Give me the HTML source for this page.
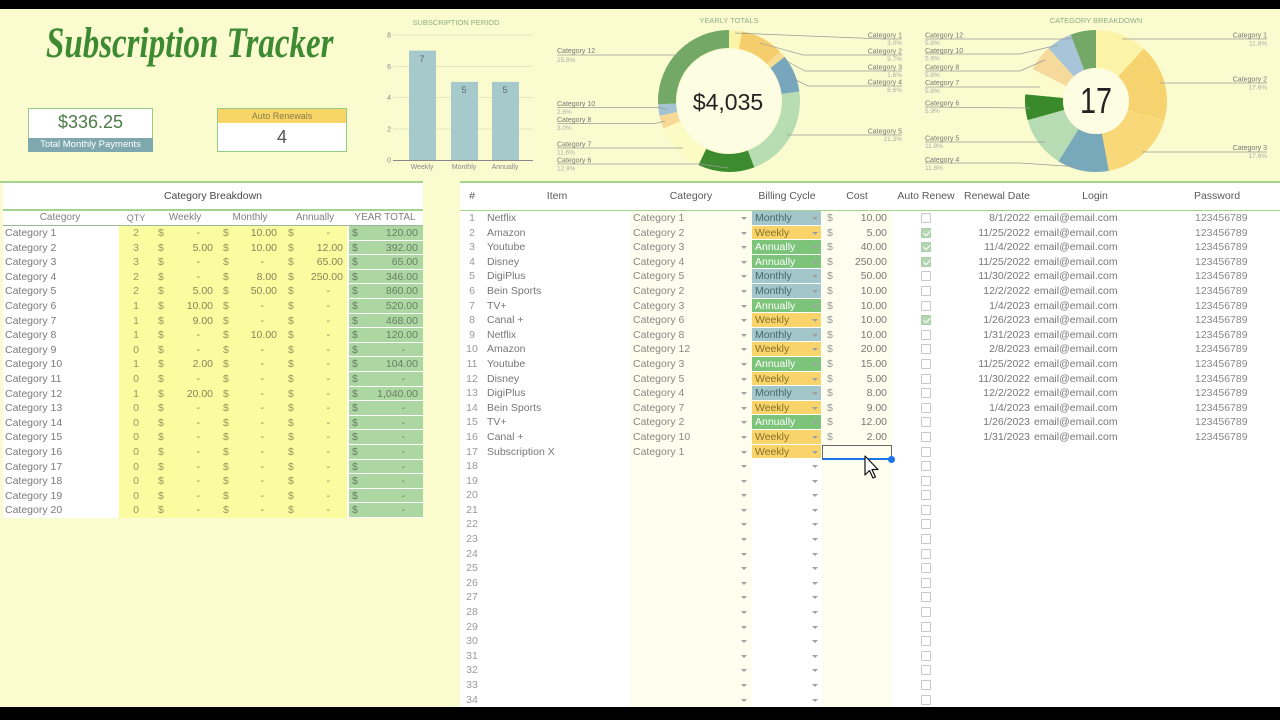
<!DOCTYPE html>
<html><head><meta charset="utf-8">
<style>
*{margin:0;padding:0;box-sizing:border-box}
body{width:1280px;height:720px;overflow:hidden;background:#fafccf;font-family:"Liberation Sans",sans-serif;position:relative}
.a{position:absolute}
.r{position:relative;height:14.6px}
.r span{position:absolute;top:0;line-height:14.6px;font-size:10.5px;white-space:nowrap}
/* left table */
.lt .n{left:2px;color:#7a7a7a}
.lt .q{left:123px;width:20px;text-align:center;color:#98985c}
.lt .s1{left:155px;color:#98985c}.lt .s2{left:220px;color:#98985c}.lt .s3{left:285px;color:#98985c}
.lt .v1{left:150px;width:60px;text-align:right;color:#85855a}
.lt .v2{left:214px;width:60px;text-align:right;color:#85855a}
.lt .v3{left:280px;width:60px;text-align:right;color:#85855a}
.lt .s4{left:349px;color:#6a7e64}
.lt .v4{left:355px;width:60px;text-align:right;color:#6a7e64}
.lt .z{padding-right:13px}
.lt .g{position:absolute;left:346px;top:0;width:74px;height:13.6px;background:#acd7a3}
/* right table */
.rt .h{left:4px;width:16px;text-align:center;color:#999}
.rt .it{left:27px;color:#777}
.rt .ct{left:173px;color:#888}
.ar{position:absolute;top:6px;width:0;height:0;border-left:3px solid transparent;border-right:3px solid transparent;border-top:3px solid #a0a0a0}
.a1{left:281px}.a2{left:352px}
.bc{position:absolute;left:292px;top:0;width:69px;height:13.6px}
.bc.m{background:#a2c6ca}.bc.w{background:#f8d46a}.bc.an{background:#7dc47b}
.rt .bt{left:295px}
.bt.m{color:#46686f}.bt.w{color:#86702a}.bt.an{color:#fff}
.rt .dl{left:367px;color:#999}
.rt .co{left:377px;width:50px;text-align:right;color:#777}
.cb{position:absolute;left:461px;top:2px;width:10px;height:10px;border:1px solid #c8c8c8;background:#fff;border-radius:1px}
.cb.k{background:#b5d6b3;border-color:#a8cca6}
.cb.k::after{content:"";position:absolute;left:2.5px;top:0px;width:3px;height:6px;border:solid #fff;border-width:0 1.5px 1.5px 0;transform:rotate(45deg)}
.rt .dt{left:500px;width:70px;text-align:right;color:#777}
.rt .lg{left:574px;color:#777}
.rt .pw{left:735px;color:#888}
.hd span{position:absolute;top:0;line-height:14px;font-size:10.5px;white-space:nowrap;text-align:center;color:#5a5a5a}
.lh span{position:absolute;top:0;line-height:14px;font-size:10px;white-space:nowrap;text-align:center;color:#808080}
</style></head>
<body>
<!-- black bars -->
<div class="a" style="left:0;top:0;width:1280px;height:9px;background:#000"></div>
<div class="a" style="left:0;top:707px;width:1280px;height:13px;background:#000"></div>

<!-- top charts & title -->
<svg class="a" style="left:0;top:9px" width="1280" height="174" viewBox="0 9 1280 174" xmlns="http://www.w3.org/2000/svg" font-family="Liberation Sans, sans-serif">
<text transform="translate(46,57) scale(1,1.3)" font-family="Liberation Serif, serif" font-style="italic" font-weight="bold" font-size="33" fill="#3e8a33">Subscription Tracker</text>

<!-- bar chart -->
<text x="456" y="25" font-size="7.5" fill="#8fae86" text-anchor="middle">SUBSCRIPTION PERIOD</text>
<g stroke="#e4e6c4" stroke-width="1">
<line x1="393" y1="35" x2="533" y2="35"/>
<line x1="393" y1="66.5" x2="533" y2="66.5"/>
<line x1="393" y1="97.5" x2="533" y2="97.5"/>
<line x1="393" y1="129" x2="533" y2="129"/>
</g>
<g font-size="7" fill="#888" text-anchor="end">
<text x="391" y="37.5">8</text>
<text x="391" y="69">6</text>
<text x="391" y="100">4</text>
<text x="391" y="131.5">2</text>
<text x="391" y="162.5">0</text>
</g>
<rect x="409" y="50.6" width="27" height="109.4" fill="#a6c9cb"/>
<rect x="451" y="81.9" width="27" height="78.1" fill="#a6c9cb"/>
<rect x="492" y="81.9" width="27" height="78.1" fill="#a6c9cb"/>
<line x1="393" y1="160.5" x2="533" y2="160.5" stroke="#888" stroke-width="1"/>
<g font-size="9" fill="#5a6b70" text-anchor="middle">
<text x="422" y="62">7</text>
<text x="464" y="93">5</text>
<text x="505" y="93">5</text>
</g>
<g font-size="7" fill="#888" text-anchor="middle">
<text x="422" y="169">Weekly</text>
<text x="464" y="169">Monthly</text>
<text x="505" y="169">Annually</text>
</g>

<!-- donut 1 -->
<text x="729" y="23" font-size="7.5" fill="#8fae86" text-anchor="middle">YEARLY TOTALS</text>
<g transform="rotate(-90 729 101)" fill="none" stroke-width="18">
<circle cx="729" cy="101" r="62" stroke="#fbf3a5" stroke-dasharray="11.585 400" stroke-dashoffset="0"/>
<circle cx="729" cy="101" r="62" stroke="#f5cd6c" stroke-dasharray="37.846 400" stroke-dashoffset="-11.585"/>
<circle cx="729" cy="101" r="62" stroke="#f6dd8f" stroke-dasharray="6.276 400" stroke-dashoffset="-49.431"/>
<circle cx="729" cy="101" r="62" stroke="#78a7bd" stroke-dasharray="33.405 400" stroke-dashoffset="-55.707"/>
<circle cx="729" cy="101" r="62" stroke="#b8ddb2" stroke-dasharray="83.031 400" stroke-dashoffset="-89.112"/>
<circle cx="729" cy="101" r="62" stroke="#3c8b2e" stroke-dasharray="50.203 400" stroke-dashoffset="-172.143"/>
<circle cx="729" cy="101" r="62" stroke="#fcfbc4" stroke-dasharray="45.185 400" stroke-dashoffset="-222.346"/>
<circle cx="729" cy="101" r="62" stroke="#f7d995" stroke-dasharray="11.585 400" stroke-dashoffset="-267.531"/>
<circle cx="729" cy="101" r="62" stroke="#a3c4d5" stroke-dasharray="10.039 400" stroke-dashoffset="-279.116"/>
<circle cx="729" cy="101" r="62" stroke="#74a866" stroke-dasharray="100.405 400" stroke-dashoffset="-289.155"/>
</g>
<circle cx="729" cy="101" r="52" fill="#fcfde2"/>
<text x="728" y="110" font-size="23" fill="#222" text-anchor="middle">$4,035</text>
<g fill="none" stroke="#9a9a9a" stroke-width="0.7">
<polyline points="557,55 680,55"/>
<polyline points="557,107.5 660,107.5 668,110"/>
<polyline points="557,123.5 655,123.5 665,121"/>
<polyline points="557,148 683,148"/>
<polyline points="557,164 700,164 728,168"/>
<polyline points="735,33 883,39 902,39"/>
<polyline points="760,43 803,55 902,55"/>
<polyline points="783,59 805,71 902,71"/>
<polyline points="792,78 808,86 902,86"/>
<polyline points="787,135 902,135"/>
</g>
<g font-size="7" fill="#777">
<text x="557" y="53">Category 12</text>
<text x="557" y="106">Category 10</text>
<text x="557" y="122">Category 8</text>
<text x="557" y="146.5">Category 7</text>
<text x="557" y="162.5">Category 6</text>
<g text-anchor="end">
<text x="902" y="37.5">Category 1</text>
<text x="902" y="53.5">Category 2</text>
<text x="902" y="69.5">Category 3</text>
<text x="902" y="84.5">Category 4</text>
<text x="902" y="133.5">Category 5</text>
</g>
</g>
<g font-size="6.5" fill="#aaa">
<text x="557" y="62">25.8%</text>
<text x="557" y="114">2.6%</text>
<text x="557" y="130">3.0%</text>
<text x="557" y="154.5">11.6%</text>
<text x="557" y="170.5">12.9%</text>
<g text-anchor="end">
<text x="902" y="45">3.0%</text>
<text x="902" y="61">9.7%</text>
<text x="902" y="77">1.6%</text>
<text x="902" y="92">8.6%</text>
<text x="902" y="141">21.3%</text>
</g>
</g>

<!-- donut 2 -->
<text x="1096" y="23" font-size="7.5" fill="#8fae86" text-anchor="middle">CATEGORY BREAKDOWN</text>
<g transform="rotate(-90 1096 101)" fill="none" stroke-width="38">
<circle cx="1096" cy="101" r="52" stroke="#fbf4a8" stroke-dasharray="38.439 400" stroke-dashoffset="0"/>
<circle cx="1096" cy="101" r="52" stroke="#f7d370" stroke-dasharray="57.658 400" stroke-dashoffset="-38.439"/>
<circle cx="1096" cy="101" r="52" stroke="#f8d878" stroke-dasharray="57.658 400" stroke-dashoffset="-96.097"/>
<circle cx="1096" cy="101" r="52" stroke="#78a9bb" stroke-dasharray="38.439 400" stroke-dashoffset="-153.755"/>
<circle cx="1096" cy="101" r="52" stroke="#b7dbb2" stroke-dasharray="38.439 400" stroke-dashoffset="-192.194"/>
<circle cx="1096" cy="101" r="52" stroke="#3a8a2c" stroke-dasharray="19.219 400" stroke-dashoffset="-230.633"/>
<circle cx="1096" cy="101" r="52" stroke="#fbfbcb" stroke-dasharray="19.219 400" stroke-dashoffset="-249.852"/>
<circle cx="1096" cy="101" r="52" stroke="#f6da9c" stroke-dasharray="19.219 400" stroke-dashoffset="-269.071"/>
<circle cx="1096" cy="101" r="52" stroke="#a7c4d8" stroke-dasharray="19.219 400" stroke-dashoffset="-288.290"/>
<circle cx="1096" cy="101" r="52" stroke="#74a866" stroke-dasharray="19.219 400" stroke-dashoffset="-307.509"/>
</g>
<circle cx="1096" cy="101" r="33" fill="#fcfde2"/>
<text transform="translate(1096,113) scale(0.8,1)" font-size="36" fill="#222" text-anchor="middle">17</text>
<g fill="none" stroke="#9a9a9a" stroke-width="0.7">
<polyline points="925,39 1068,39 1080,36"/>
<polyline points="925,54 1020,54 1058,45"/>
<polyline points="925,71 1020,71 1045,60"/>
<polyline points="925,87 1040,87"/>
<polyline points="925,107 1030,108"/>
<polyline points="925,142 1045,142"/>
<polyline points="925,163 1020,163 1080,167"/>
<polyline points="1122,39 1267,39"/>
<polyline points="1160,83 1267,83"/>
<polyline points="1142,152 1267,152"/>
</g>
<g font-size="7" fill="#777">
<text x="925" y="37.5">Category 12</text>
<text x="925" y="53">Category 10</text>
<text x="925" y="69.5">Category 8</text>
<text x="925" y="85">Category 7</text>
<text x="925" y="105.5">Category 6</text>
<text x="925" y="140.5">Category 5</text>
<text x="925" y="162">Category 4</text>
<g text-anchor="end">
<text x="1267" y="37.5">Category 1</text>
<text x="1267" y="81.5">Category 2</text>
<text x="1267" y="150">Category 3</text>
</g>
</g>
<g font-size="6.5" fill="#aaa">
<text x="925" y="45">5.9%</text>
<text x="925" y="60.5">5.9%</text>
<text x="925" y="77">5.9%</text>
<text x="925" y="93">5.9%</text>
<text x="925" y="113">5.9%</text>
<text x="925" y="148">11.8%</text>
<text x="925" y="170">11.8%</text>
<g text-anchor="end">
<text x="1267" y="45.5">11.8%</text>
<text x="1267" y="89.5">17.6%</text>
<text x="1267" y="158">17.6%</text>
</g>
</g>
</svg>

<!-- KPI boxes -->
<div class="a" style="left:28px;top:108px;width:125px;height:44px;border:1px solid #93cc82;background:#fff"></div>
<div class="a" style="left:28px;top:108px;width:125px;line-height:29px;font-size:18px;color:#4d7c47;text-align:center">$336.25</div>
<div class="a" style="left:28px;top:138px;width:125px;height:14px;background:#7fa7ae;color:#fff;font-size:9.5px;line-height:14px;text-align:center">Total Monthly Payments</div>

<div class="a" style="left:217px;top:108px;width:130px;height:44px;border:1px solid #93cc82;background:#fff"></div>
<div class="a" style="left:218px;top:109px;width:128px;height:14px;background:#f7d566;color:#8b7d4a;font-size:9px;line-height:14px;text-align:center">Auto Renewals</div>
<div class="a" style="left:217px;top:126px;width:130px;line-height:22px;font-size:18px;color:#555;text-align:center">4</div>

<!-- LEFT TABLE -->
<div class="a" style="left:3px;top:183px;width:420px;height:335px;background:#fff"></div>
<div class="a" style="left:0;top:181px;width:423px;height:2px;background:#a5d48f"></div>
<div class="a" style="left:3px;top:189px;width:420px;line-height:14px;font-size:10.5px;color:#4a4a4a;text-align:center">Category Breakdown</div>
<div class="a" style="left:3px;top:209px;width:420px;height:1.5px;background:#a5d48f"></div>
<div class="a lh" style="left:0;top:211px;width:423px;height:14px">
<span style="left:20px;width:80px">Category</span>
<span style="left:116px;width:40px;font-size:9px">QTY</span>
<span style="left:150px;width:70px">Weekly</span>
<span style="left:215px;width:70px">Monthly</span>
<span style="left:280px;width:70px">Annually</span>
<span style="left:345px;width:80px">YEAR TOTAL</span>
</div>
<div class="a" style="left:3px;top:225px;width:420px;height:1px;background:#9db896"></div>
<div class="a" style="left:119px;top:226px;width:228px;height:292px;background:#fbfb9f"></div>

<div class="a lt" style="left:3px;top:226px;width:420px">
<div class="r"><span class="n">Category 1</span><span class="q">2</span><span class="s1">$</span><span class="v1 z">-</span><span class="s2">$</span><span class="v2">10.00</span><span class="s3">$</span><span class="v3 z">-</span><i class="g"></i><span class="s4">$</span><span class="v4">120.00</span></div>
<div class="r"><span class="n">Category 2</span><span class="q">3</span><span class="s1">$</span><span class="v1">5.00</span><span class="s2">$</span><span class="v2">10.00</span><span class="s3">$</span><span class="v3">12.00</span><i class="g"></i><span class="s4">$</span><span class="v4">392.00</span></div>
<div class="r"><span class="n">Category 3</span><span class="q">3</span><span class="s1">$</span><span class="v1 z">-</span><span class="s2">$</span><span class="v2 z">-</span><span class="s3">$</span><span class="v3">65.00</span><i class="g"></i><span class="s4">$</span><span class="v4">65.00</span></div>
<div class="r"><span class="n">Category 4</span><span class="q">2</span><span class="s1">$</span><span class="v1 z">-</span><span class="s2">$</span><span class="v2">8.00</span><span class="s3">$</span><span class="v3">250.00</span><i class="g"></i><span class="s4">$</span><span class="v4">346.00</span></div>
<div class="r"><span class="n">Category 5</span><span class="q">2</span><span class="s1">$</span><span class="v1">5.00</span><span class="s2">$</span><span class="v2">50.00</span><span class="s3">$</span><span class="v3 z">-</span><i class="g"></i><span class="s4">$</span><span class="v4">860.00</span></div>
<div class="r"><span class="n">Category 6</span><span class="q">1</span><span class="s1">$</span><span class="v1">10.00</span><span class="s2">$</span><span class="v2 z">-</span><span class="s3">$</span><span class="v3 z">-</span><i class="g"></i><span class="s4">$</span><span class="v4">520.00</span></div>
<div class="r"><span class="n">Category 7</span><span class="q">1</span><span class="s1">$</span><span class="v1">9.00</span><span class="s2">$</span><span class="v2 z">-</span><span class="s3">$</span><span class="v3 z">-</span><i class="g"></i><span class="s4">$</span><span class="v4">468.00</span></div>
<div class="r"><span class="n">Category 8</span><span class="q">1</span><span class="s1">$</span><span class="v1 z">-</span><span class="s2">$</span><span class="v2">10.00</span><span class="s3">$</span><span class="v3 z">-</span><i class="g"></i><span class="s4">$</span><span class="v4">120.00</span></div>
<div class="r"><span class="n">Category 9</span><span class="q">0</span><span class="s1">$</span><span class="v1 z">-</span><span class="s2">$</span><span class="v2 z">-</span><span class="s3">$</span><span class="v3 z">-</span><i class="g"></i><span class="s4">$</span><span class="v4 z">-</span></div>
<div class="r"><span class="n">Category 10</span><span class="q">1</span><span class="s1">$</span><span class="v1">2.00</span><span class="s2">$</span><span class="v2 z">-</span><span class="s3">$</span><span class="v3 z">-</span><i class="g"></i><span class="s4">$</span><span class="v4">104.00</span></div>
<div class="r"><span class="n">Category 11</span><span class="q">0</span><span class="s1">$</span><span class="v1 z">-</span><span class="s2">$</span><span class="v2 z">-</span><span class="s3">$</span><span class="v3 z">-</span><i class="g"></i><span class="s4">$</span><span class="v4 z">-</span></div>
<div class="r"><span class="n">Category 12</span><span class="q">1</span><span class="s1">$</span><span class="v1">20.00</span><span class="s2">$</span><span class="v2 z">-</span><span class="s3">$</span><span class="v3 z">-</span><i class="g"></i><span class="s4">$</span><span class="v4">1,040.00</span></div>
<div class="r"><span class="n">Category 13</span><span class="q">0</span><span class="s1">$</span><span class="v1 z">-</span><span class="s2">$</span><span class="v2 z">-</span><span class="s3">$</span><span class="v3 z">-</span><i class="g"></i><span class="s4">$</span><span class="v4 z">-</span></div>
<div class="r"><span class="n">Category 14</span><span class="q">0</span><span class="s1">$</span><span class="v1 z">-</span><span class="s2">$</span><span class="v2 z">-</span><span class="s3">$</span><span class="v3 z">-</span><i class="g"></i><span class="s4">$</span><span class="v4 z">-</span></div>
<div class="r"><span class="n">Category 15</span><span class="q">0</span><span class="s1">$</span><span class="v1 z">-</span><span class="s2">$</span><span class="v2 z">-</span><span class="s3">$</span><span class="v3 z">-</span><i class="g"></i><span class="s4">$</span><span class="v4 z">-</span></div>
<div class="r"><span class="n">Category 16</span><span class="q">0</span><span class="s1">$</span><span class="v1 z">-</span><span class="s2">$</span><span class="v2 z">-</span><span class="s3">$</span><span class="v3 z">-</span><i class="g"></i><span class="s4">$</span><span class="v4 z">-</span></div>
<div class="r"><span class="n">Category 17</span><span class="q">0</span><span class="s1">$</span><span class="v1 z">-</span><span class="s2">$</span><span class="v2 z">-</span><span class="s3">$</span><span class="v3 z">-</span><i class="g"></i><span class="s4">$</span><span class="v4 z">-</span></div>
<div class="r"><span class="n">Category 18</span><span class="q">0</span><span class="s1">$</span><span class="v1 z">-</span><span class="s2">$</span><span class="v2 z">-</span><span class="s3">$</span><span class="v3 z">-</span><i class="g"></i><span class="s4">$</span><span class="v4 z">-</span></div>
<div class="r"><span class="n">Category 19</span><span class="q">0</span><span class="s1">$</span><span class="v1 z">-</span><span class="s2">$</span><span class="v2 z">-</span><span class="s3">$</span><span class="v3 z">-</span><i class="g"></i><span class="s4">$</span><span class="v4 z">-</span></div>
<div class="r"><span class="n">Category 20</span><span class="q">0</span><span class="s1">$</span><span class="v1 z">-</span><span class="s2">$</span><span class="v2 z">-</span><span class="s3">$</span><span class="v3 z">-</span><i class="g"></i><span class="s4">$</span><span class="v4 z">-</span></div>
</div>

<!-- RIGHT TABLE -->
<div class="a" style="left:460px;top:183px;width:820px;height:524px;background:#fff"></div>
<div class="a" style="left:630px;top:211px;width:122px;height:496px;background:#fefeee"></div>
<div class="a" style="left:822px;top:211px;width:70px;height:496px;background:#fefeee"></div>
<div class="a" style="left:460px;top:181px;width:820px;height:2px;background:#a5d48f"></div>
<div class="a hd" style="left:0;top:189px;width:1280px;height:14px">
<span style="left:452px;width:40px">#</span>
<span style="left:507px;width:100px">Item</span>
<span style="left:641px;width:100px">Category</span>
<span style="left:737px;width:100px">Billing Cycle</span>
<span style="left:827px;width:60px">Cost</span>
<span style="left:886px;width:80px">Auto Renew</span>
<span style="left:952px;width:90px">Renewal Date</span>
<span style="left:1045px;width:100px">Login</span>
<span style="left:1167px;width:100px">Password</span>
</div>
<div class="a" style="left:460px;top:209.5px;width:820px;height:1.5px;background:#a5d48f"></div>

<div class="a rt" style="left:460px;top:211px;width:820px">
<div class="r"><span class="h">1</span><span class="it">Netflix</span><span class="ct">Category 1</span><b class="ar a1"></b><i class="bc m"></i><span class="bt m">Monthly</span><b class="ar a2"></b><span class="dl">$</span><span class="co">10.00</span><i class="cb"></i><span class="dt">8/1/2022</span><span class="lg">email@email.com</span><span class="pw">123456789</span></div>
<div class="r"><span class="h">2</span><span class="it">Amazon</span><span class="ct">Category 2</span><b class="ar a1"></b><i class="bc w"></i><span class="bt w">Weekly</span><b class="ar a2"></b><span class="dl">$</span><span class="co">5.00</span><i class="cb k"></i><span class="dt">11/25/2022</span><span class="lg">email@email.com</span><span class="pw">123456789</span></div>
<div class="r"><span class="h">3</span><span class="it">Youtube</span><span class="ct">Category 3</span><b class="ar a1"></b><i class="bc an"></i><span class="bt an">Annually</span><b class="ar a2"></b><span class="dl">$</span><span class="co">40.00</span><i class="cb k"></i><span class="dt">11/4/2022</span><span class="lg">email@email.com</span><span class="pw">123456789</span></div>
<div class="r"><span class="h">4</span><span class="it">Disney</span><span class="ct">Category 4</span><b class="ar a1"></b><i class="bc an"></i><span class="bt an">Annually</span><b class="ar a2"></b><span class="dl">$</span><span class="co">250.00</span><i class="cb k"></i><span class="dt">11/25/2022</span><span class="lg">email@email.com</span><span class="pw">123456789</span></div>
<div class="r"><span class="h">5</span><span class="it">DigiPlus</span><span class="ct">Category 5</span><b class="ar a1"></b><i class="bc m"></i><span class="bt m">Monthly</span><b class="ar a2"></b><span class="dl">$</span><span class="co">50.00</span><i class="cb"></i><span class="dt">11/30/2022</span><span class="lg">email@email.com</span><span class="pw">123456789</span></div>
<div class="r"><span class="h">6</span><span class="it">Bein Sports</span><span class="ct">Category 2</span><b class="ar a1"></b><i class="bc m"></i><span class="bt m">Monthly</span><b class="ar a2"></b><span class="dl">$</span><span class="co">10.00</span><i class="cb"></i><span class="dt">12/2/2022</span><span class="lg">email@email.com</span><span class="pw">123456789</span></div>
<div class="r"><span class="h">7</span><span class="it">TV+</span><span class="ct">Category 3</span><b class="ar a1"></b><i class="bc an"></i><span class="bt an">Annually</span><b class="ar a2"></b><span class="dl">$</span><span class="co">10.00</span><i class="cb"></i><span class="dt">1/4/2023</span><span class="lg">email@email.com</span><span class="pw">123456789</span></div>
<div class="r"><span class="h">8</span><span class="it">Canal +</span><span class="ct">Category 6</span><b class="ar a1"></b><i class="bc w"></i><span class="bt w">Weekly</span><b class="ar a2"></b><span class="dl">$</span><span class="co">10.00</span><i class="cb k"></i><span class="dt">1/26/2023</span><span class="lg">email@email.com</span><span class="pw">123456789</span></div>
<div class="r"><span class="h">9</span><span class="it">Netflix</span><span class="ct">Category 8</span><b class="ar a1"></b><i class="bc m"></i><span class="bt m">Monthly</span><b class="ar a2"></b><span class="dl">$</span><span class="co">10.00</span><i class="cb"></i><span class="dt">1/31/2023</span><span class="lg">email@email.com</span><span class="pw">123456789</span></div>
<div class="r"><span class="h">10</span><span class="it">Amazon</span><span class="ct">Category 12</span><b class="ar a1"></b><i class="bc w"></i><span class="bt w">Weekly</span><b class="ar a2"></b><span class="dl">$</span><span class="co">20.00</span><i class="cb"></i><span class="dt">2/8/2023</span><span class="lg">email@email.com</span><span class="pw">123456789</span></div>
<div class="r"><span class="h">11</span><span class="it">Youtube</span><span class="ct">Category 3</span><b class="ar a1"></b><i class="bc an"></i><span class="bt an">Annually</span><b class="ar a2"></b><span class="dl">$</span><span class="co">15.00</span><i class="cb"></i><span class="dt">11/25/2022</span><span class="lg">email@email.com</span><span class="pw">123456789</span></div>
<div class="r"><span class="h">12</span><span class="it">Disney</span><span class="ct">Category 5</span><b class="ar a1"></b><i class="bc w"></i><span class="bt w">Weekly</span><b class="ar a2"></b><span class="dl">$</span><span class="co">5.00</span><i class="cb"></i><span class="dt">11/30/2022</span><span class="lg">email@email.com</span><span class="pw">123456789</span></div>
<div class="r"><span class="h">13</span><span class="it">DigiPlus</span><span class="ct">Category 4</span><b class="ar a1"></b><i class="bc m"></i><span class="bt m">Monthly</span><b class="ar a2"></b><span class="dl">$</span><span class="co">8.00</span><i class="cb"></i><span class="dt">12/2/2022</span><span class="lg">email@email.com</span><span class="pw">123456789</span></div>
<div class="r"><span class="h">14</span><span class="it">Bein Sports</span><span class="ct">Category 7</span><b class="ar a1"></b><i class="bc w"></i><span class="bt w">Weekly</span><b class="ar a2"></b><span class="dl">$</span><span class="co">9.00</span><i class="cb"></i><span class="dt">1/4/2023</span><span class="lg">email@email.com</span><span class="pw">123456789</span></div>
<div class="r"><span class="h">15</span><span class="it">TV+</span><span class="ct">Category 2</span><b class="ar a1"></b><i class="bc an"></i><span class="bt an">Annually</span><b class="ar a2"></b><span class="dl">$</span><span class="co">12.00</span><i class="cb"></i><span class="dt">1/26/2023</span><span class="lg">email@email.com</span><span class="pw">123456789</span></div>
<div class="r"><span class="h">16</span><span class="it">Canal +</span><span class="ct">Category 10</span><b class="ar a1"></b><i class="bc w"></i><span class="bt w">Weekly</span><b class="ar a2"></b><span class="dl">$</span><span class="co">2.00</span><i class="cb"></i><span class="dt">1/31/2023</span><span class="lg">email@email.com</span><span class="pw">123456789</span></div>
<div class="r"><span class="h">17</span><span class="it">Subscription X</span><span class="ct">Category 1</span><b class="ar a1"></b><i class="bc w"></i><span class="bt w">Weekly</span><b class="ar a2"></b><i class="cb"></i></div>
<div class="r"><span class="h">18</span><b class="ar a1"></b><b class="ar a2"></b><i class="cb"></i></div>
<div class="r"><span class="h">19</span><b class="ar a1"></b><b class="ar a2"></b><i class="cb"></i></div>
<div class="r"><span class="h">20</span><b class="ar a1"></b><b class="ar a2"></b><i class="cb"></i></div>
<div class="r"><span class="h">21</span><b class="ar a1"></b><b class="ar a2"></b><i class="cb"></i></div>
<div class="r"><span class="h">22</span><b class="ar a1"></b><b class="ar a2"></b><i class="cb"></i></div>
<div class="r"><span class="h">23</span><b class="ar a1"></b><b class="ar a2"></b><i class="cb"></i></div>
<div class="r"><span class="h">24</span><b class="ar a1"></b><b class="ar a2"></b><i class="cb"></i></div>
<div class="r"><span class="h">25</span><b class="ar a1"></b><b class="ar a2"></b><i class="cb"></i></div>
<div class="r"><span class="h">26</span><b class="ar a1"></b><b class="ar a2"></b><i class="cb"></i></div>
<div class="r"><span class="h">27</span><b class="ar a1"></b><b class="ar a2"></b><i class="cb"></i></div>
<div class="r"><span class="h">28</span><b class="ar a1"></b><b class="ar a2"></b><i class="cb"></i></div>
<div class="r"><span class="h">29</span><b class="ar a1"></b><b class="ar a2"></b><i class="cb"></i></div>
<div class="r"><span class="h">30</span><b class="ar a1"></b><b class="ar a2"></b><i class="cb"></i></div>
<div class="r"><span class="h">31</span><b class="ar a1"></b><b class="ar a2"></b><i class="cb"></i></div>
<div class="r"><span class="h">32</span><b class="ar a1"></b><b class="ar a2"></b><i class="cb"></i></div>
<div class="r"><span class="h">33</span><b class="ar a1"></b><b class="ar a2"></b><i class="cb"></i></div>
<div class="r"><span class="h">34</span><b class="ar a1"></b><b class="ar a2"></b><i class="cb"></i></div>
</div>

<!-- selected cell -->
<div class="a" style="left:822px;top:445px;width:70px;height:15px;border:1px solid #666;border-bottom:2px solid #1a73e8"></div>
<div class="a" style="left:888px;top:456px;width:7px;height:7px;border-radius:50%;background:#1a73e8"></div>
<!-- cursor -->
<svg class="a" style="left:864px;top:455px" width="16" height="26" viewBox="0 0 16 26" xmlns="http://www.w3.org/2000/svg">
<polygon points="1,1 1,20 5.5,15.5 9,23 11.5,22 8,14.5 14,14.5" fill="#fff" stroke="#111" stroke-width="1.2" stroke-linejoin="round"/>
</svg>
</body></html>
